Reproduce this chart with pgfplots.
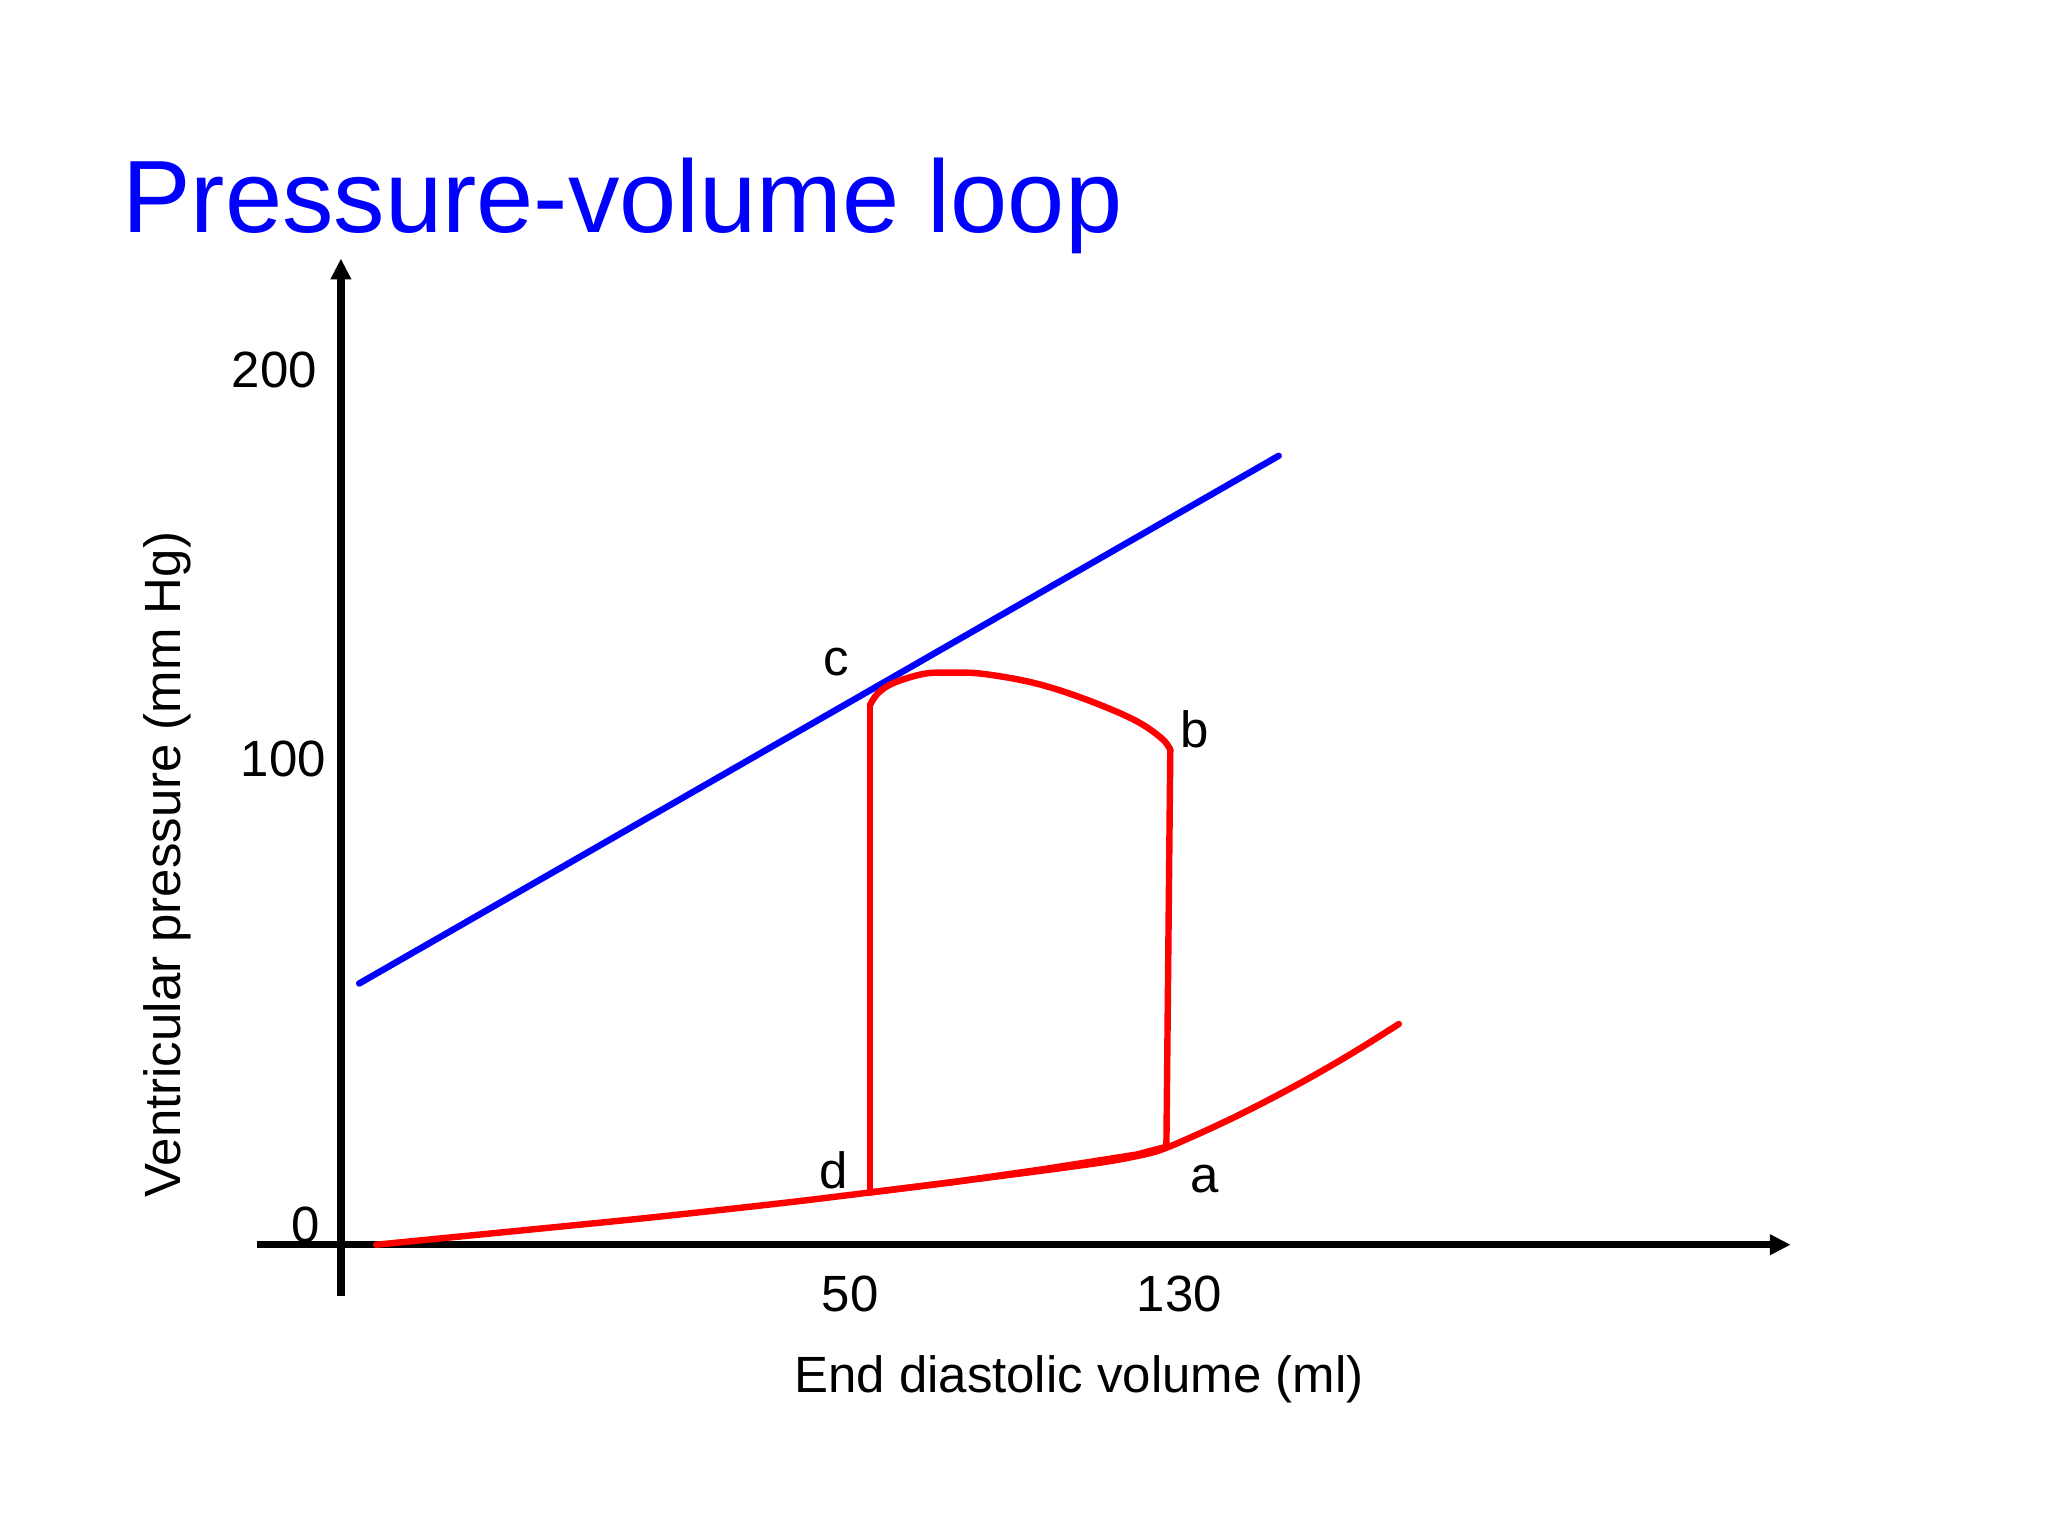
\documentclass[border=0pt]{standalone}
\usepackage{fontspec}
\setmainfont{Liberation Sans}
\usepackage{pgfplots}
\pgfplotsset{compat=1.18}
\usetikzlibrary{arrows.meta}

\definecolor{esprblue}{RGB}{0,0,255}
\definecolor{loopred}{RGB}{255,0,0}

\tikzset{lbl/.style={font=\fontsize{11.1pt}{13pt}\selectfont, inner sep=0pt}}

\begin{document}
\begin{tikzpicture}
\useasboundingbox (0,0) rectangle (15.68cm,11.76cm);
\begin{axis}[
  at={(0,0)}, anchor=south west,
  scale only axis, width=15.68cm, height=11.76cm,
  xmin=0, xmax=1568, ymin=0, ymax=1176,
  hide axis, clip=false,
  every axis plot/.append style={line width=1.4pt, line join=round, line cap=round},
]
% axes with arrow heads
\draw[line width=1.6pt, -{Triangle[length=1.6mm,width=1.5mm]}]
  (axis cs:197,223) -- (axis cs:1371,223);
\draw[line width=1.6pt, -{Triangle[length=1.6mm,width=1.5mm]}]
  (axis cs:261,184) -- (axis cs:261,978);

% end-systolic pressure-volume relation
\addplot[esprblue] coordinates {(275,423) (979,827)};

% end-diastolic pressure-volume relation
\addplot[loopred, smooth, tension=0.5] coordinates {
  (288,223) (400,234) (500,244) (600,255) (666,263) (730,271) (800,280)
  (850,287) (880,293) (895,298) (920,308.9) (945,320.6) (970,333.2)
  (995,346.5) (1020,360.6) (1045,375.6) (1071,392)
};

% the loop: isovolumetric contraction d -> c
\addplot[loopred] coordinates {(666,263) (666,636)};
% ejection c -> b
\addplot[loopred, smooth, tension=0.6] coordinates {
  (666,636) (672,645) (684,653) (707,660)
  (728,661) (753,660) (792,653) (830,641)
  (868,625) (889,611) (896,602)
};
% isovolumetric relaxation b -> a, filling a -> d
\addplot[loopred] coordinates {
  (896,602) (893,298) (870,292) (800,281) (730,271) (666,263)
};

% tick values
\node[lbl] at (axis cs:234,238) {0};
\node[lbl] at (axis cs:217,595) {100};
\node[lbl] at (axis cs:210,893) {200};
\node[lbl] at (axis cs:651,185) {50};
\node[lbl] at (axis cs:903,185) {130};

% axis titles
\node[lbl] at (axis cs:826,120) {End diastolic volume (ml)};
\node[lbl, rotate=90] at (axis cs:128,514) {Ventricular pressure (mm Hg)};

% loop corner letters
\node[lbl] at (axis cs:640,669) {c};
\node[lbl] at (axis cs:915,618) {b};
\node[lbl] at (axis cs:638,280) {d};
\node[lbl] at (axis cs:922,273) {a};

% slide title
\node[anchor=base west, inner sep=0pt, text=esprblue,
      font=\fontsize{22.4pt}{26pt}\selectfont] at (axis cs:93,998) {Pressure-volume loop};
\end{axis}
\end{tikzpicture}
\end{document}
